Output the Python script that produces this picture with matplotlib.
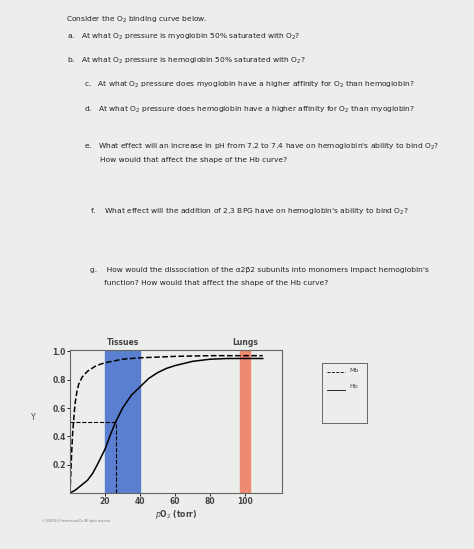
import matplotlib
matplotlib.use("Agg")
import matplotlib.pyplot as plt

hb_x = [0, 3, 6, 10, 13, 16, 20, 23, 26, 30, 35, 40, 45, 50, 55, 60, 70, 80, 90, 110]
hb_y = [0, 0.02, 0.05, 0.09, 0.14, 0.21, 0.31, 0.41, 0.50, 0.60, 0.69, 0.75, 0.81, 0.85, 0.88, 0.90, 0.93, 0.945, 0.95, 0.95]
mb_x = [0, 0.5, 1, 1.5, 2, 2.5, 3, 4, 5, 7, 10, 15, 20, 30, 40, 60, 80, 110]
mb_y = [0, 0.15, 0.30, 0.42, 0.50, 0.58, 0.64, 0.72, 0.77, 0.82, 0.86, 0.90, 0.92, 0.945, 0.955, 0.965, 0.97, 0.97]
yticks = [0.2, 0.4, 0.6, 0.8, 1.0]
xticks = [20, 40, 60, 80, 100]

W, H = 474, 549
fig = plt.figure(figsize=(W/100, H/100), dpi=100)
fig.patch.set_facecolor("#eceeec")

def t(x, y, s, **kw):
    fig.text(x/W, 1 - y/H, s, fontsize=5.4, color="#222222", va="center", **kw)

t(66, 20, "Consider the O$_2$ binding curve below.")
t(67, 37, "a.   At what O$_2$ pressure is myoglobin 50% saturated with O$_2$?")
t(67, 61, "b.   At what O$_2$ pressure is hemoglobin 50% saturated with O$_2$?")
t(84, 85, "c.   At what O$_2$ pressure does myoglobin have a higher affinity for O$_2$ than hemoglobin?")
t(84, 110, "d.   At what O$_2$ pressure does hemoglobin have a higher affinity for O$_2$ than myoglobin?")
t(84, 147, "e.   What effect will an increase in pH from 7.2 to 7.4 have on hemoglobin's ability to bind O$_2$?")
t(100, 160, "How would that affect the shape of the Hb curve?")
t(90, 212, "f.    What effect will the addition of 2,3 BPG have on hemoglobin's ability to bind O$_2$?")
t(90, 270, "g.    How would the dissociation of the α2β2 subunits into monomers impact hemoglobin's")
t(104, 283, "function? How would that affect the shape of the Hb curve?")

ax = fig.add_axes([70/W, 1-493/H, 212/W, 143/H])
ax.set_facecolor("#eceeec")
ax.set_xlim(0, 121)
ax.set_ylim(0, 1.01)
ax.axvspan(20, 40, color="#5b7fd0")
ax.axvspan(97, 103, color="#ee8a70")
ax.plot(mb_x, mb_y, "k--", lw=1.1)
ax.plot(hb_x, hb_y, "k-", lw=1.1)
ax.plot([0, 26], [0.5, 0.5], "k--", lw=0.8)
ax.plot([26, 26], [0, 0.5], "k--", lw=0.8)
ax.set_xticks(xticks)
ax.set_yticks(yticks)
ax.set_xticklabels([str(v) for v in xticks], fontsize=5.5, fontweight="bold", color="#444")
ax.set_yticklabels([f"{v:.1f}" for v in yticks], fontsize=5.5, fontweight="bold", color="#444")
ax.tick_params(length=2, width=0.6, pad=1)
for s in ax.spines.values():
    s.set_color("#666"); s.set_linewidth(0.8)
ax.set_xlabel("$p$O$_2$ (torr)", fontsize=5.5, fontweight="bold", color="#444", labelpad=1)
ax.set_ylabel("Y", fontsize=5.5, color="#444", rotation=0, labelpad=14)
ax.text(30, 1.03, "Tissues", ha="center", va="bottom", fontsize=5.5, fontweight="bold", color="#444")
ax.text(100, 1.03, "Lungs", ha="center", va="bottom", fontsize=5.5, fontweight="bold", color="#444")

lax = fig.add_axes([322/W, 1-423/H, 45/W, 60/H])
lax.set_xticks([]); lax.set_yticks([])
lax.set_facecolor("#eceeec")
for s in lax.spines.values():
    s.set_color("#666"); s.set_linewidth(0.7)
lax.set_xlim(0, 1); lax.set_ylim(0, 1)
lax.plot([0.1, 0.5], [0.85, 0.85], "k--", lw=0.6)
lax.plot([0.1, 0.5], [0.55, 0.55], "k-", lw=0.6)
lax.text(0.6, 0.87, "Mb", fontsize=4.5, va="center", color="#444")
lax.text(0.6, 0.6, "Hb", fontsize=4.5, va="center", color="#444")

fig.text(42/W, 1-522/H, "© 2008 W.H. Freeman and Co. All rights reserved", fontsize=2, color="#777")
fig.savefig("out.png", dpi=100, facecolor=fig.get_facecolor())
